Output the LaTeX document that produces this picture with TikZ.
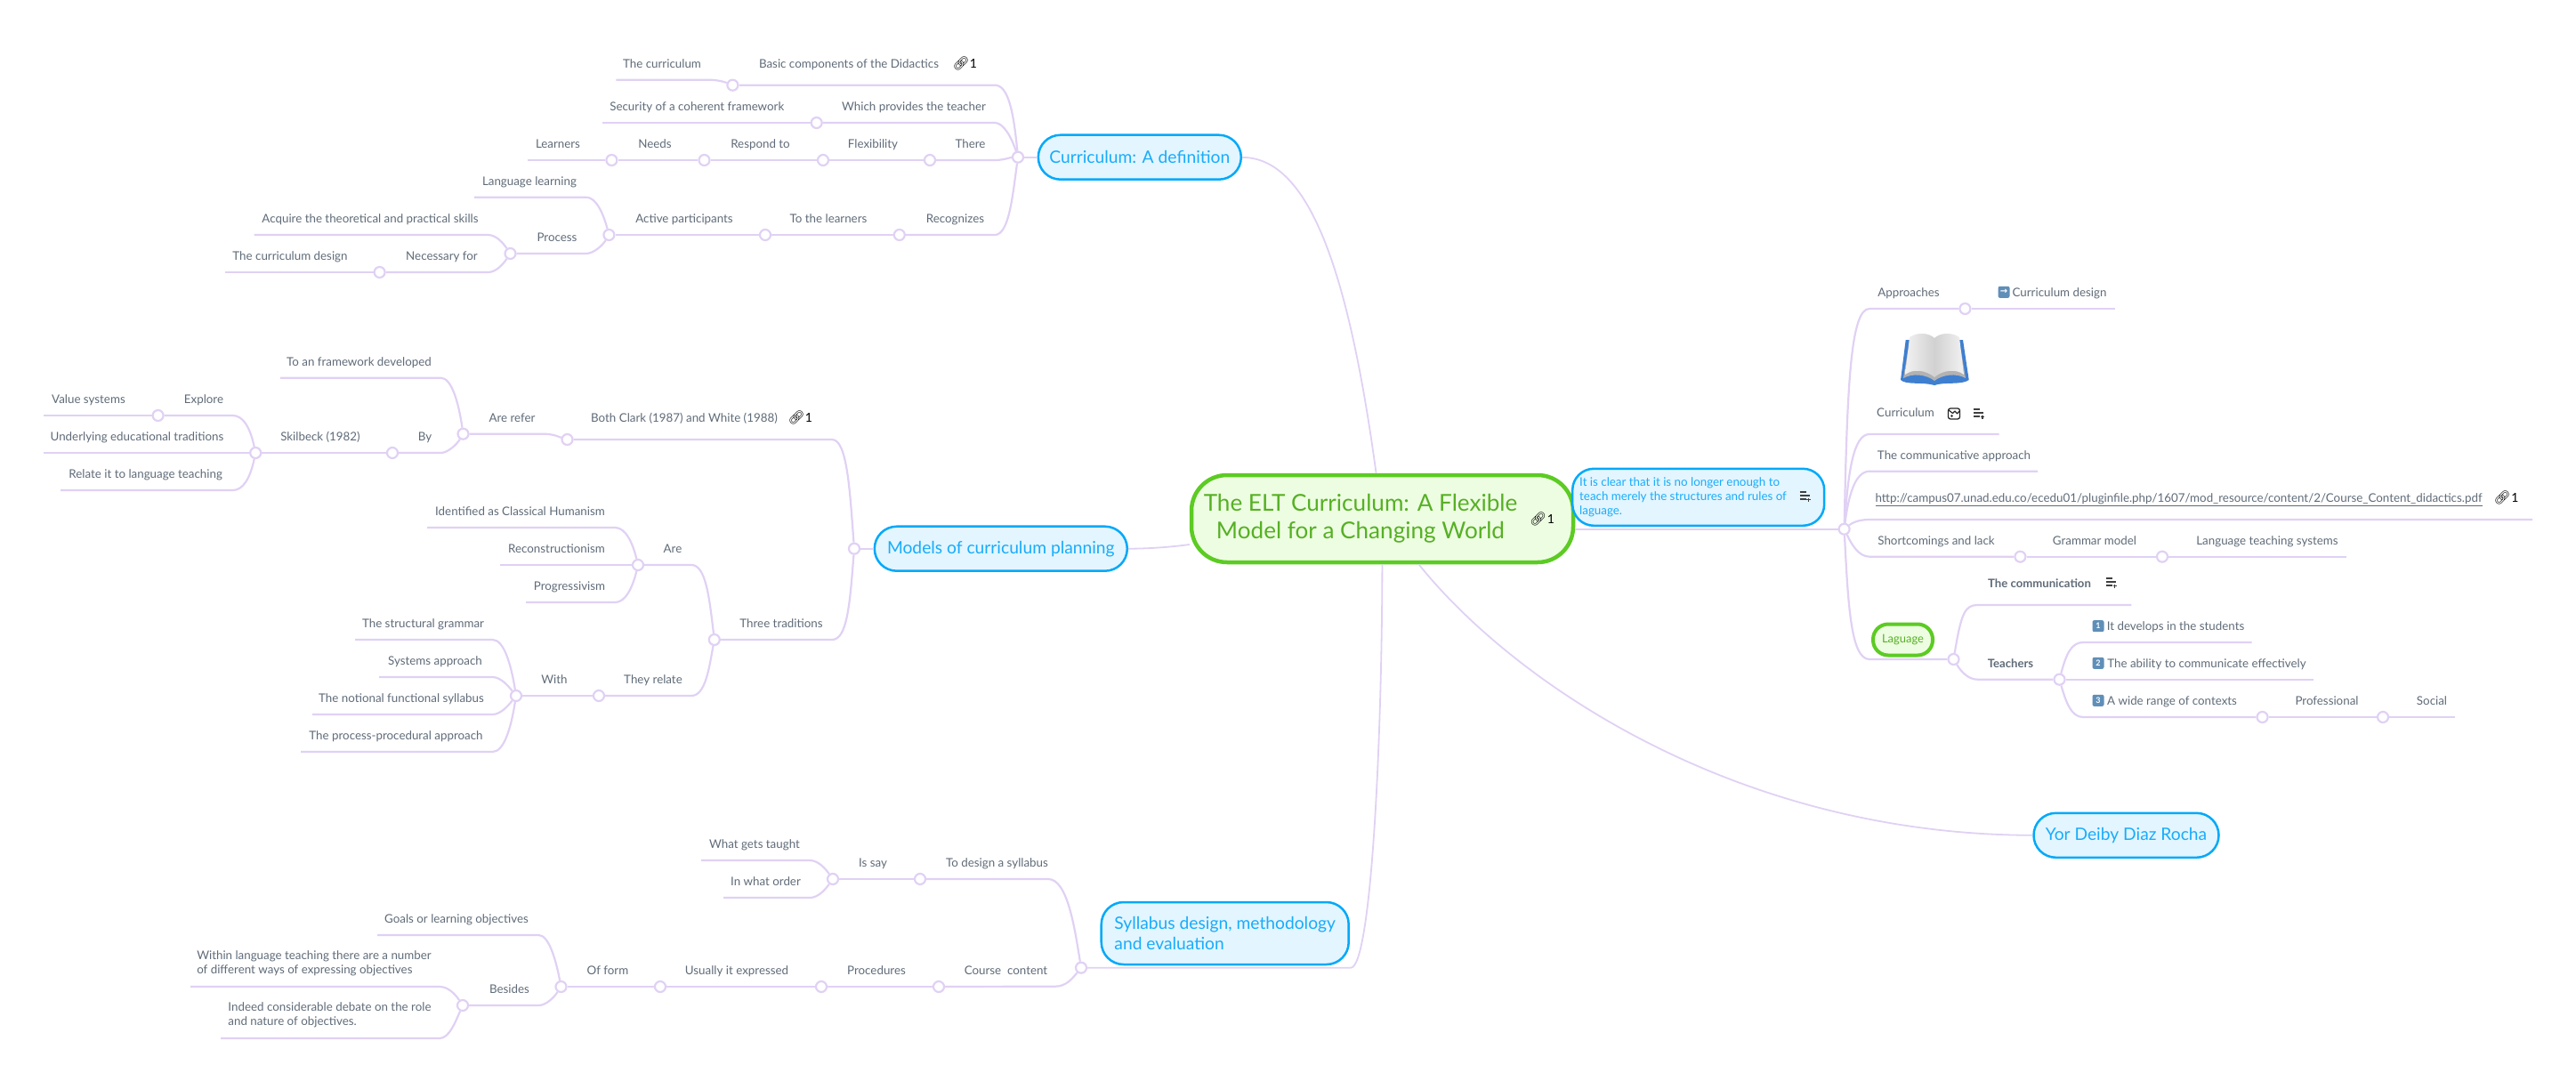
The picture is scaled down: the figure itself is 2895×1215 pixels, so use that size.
\documentclass[tikz,border=0pt]{standalone}
\usepackage{fontspec}
\setmainfont{Lato}
\newfontfamily\iconfont{Noto Emoji}
\newfontfamily\arrowfont{DejaVu Sans}
\definecolor{wire}{HTML}{E0D1F4}
\definecolor{ink}{HTML}{5F6B78}
\definecolor{bluedge}{HTML}{03A9F9}
\definecolor{bluefill}{HTML}{E3F5FE}
\definecolor{bluetext}{HTML}{18ACFB}
\definecolor{greenedge}{HTML}{5CCB23}
\definecolor{greenfill}{HTML}{EDFDE2}
\definecolor{greentext}{HTML}{56B024}
\definecolor{keyblue}{HTML}{5F8FB8}
\definecolor{bookblue}{HTML}{3F7FD0}
\tikzset{
  wired/.style={draw=wire,line width=2.2bp},
  mainwire/.style={draw=wire,line width=1.8bp},
  dot/.style={circle,draw=wire,fill=white,line width=2.2bp,minimum size=12bp,inner sep=0pt},
  lab/.style={text=ink,inner sep=0pt,text height=13bp,text depth=3bp,font=\fontsize{13.4}{16}\selectfont},
  boldlab/.style={lab,font=\fontsize{13.2}{16}\selectfont\bfseries},
  lablines/.style={text=ink,inner sep=0pt,align=left,font=\fontsize{13.4}{16}\selectfont},
  topic/.style={rounded corners=25bp,draw=bluedge,fill=bluefill,text=bluetext,line width=2.5bp,inner sep=0pt,align=left,font=\fontsize{19.3}{24}\selectfont},
  linkicon/.style={text=black,inner sep=0pt,font=\iconfont\fontsize{15}{15}\selectfont},
  count/.style={text=black,inner sep=0pt,font=\fontsize{14}{14}\selectfont},
  keycap/.style={rounded corners=2bp,fill=keyblue,text=white,minimum size=13bp,inner sep=0pt,font=\fontsize{9}{9}\selectfont\bfseries},
  noteicon/.pic={
    \draw [line width=1.3bp,draw=black!75] (-6bp,-3bp) -- (1bp,-3bp) (-6bp,1bp) -- (5bp,1bp) (-6bp,5bp) -- (1bp,5bp) (4bp,-6bp) -- (4bp,-1.5bp) (1.8bp,-3.8bp) -- (6.2bp,-3.8bp);
  },
  imageicon/.pic={
    \draw [line width=1.3bp,draw=black!85,rounded corners=2.5bp] (-6.5bp,-6bp) rectangle (6.5bp,6bp);
    \fill [black!85] (-2.5bp,-2.5bp) circle (1.3bp);
    \draw [line width=1.2bp,draw=black!85] (-6bp,4bp) -- (-1.5bp,0.5bp) -- (1bp,3bp) -- (3.5bp,0bp) -- (6bp,3bp);
  },
}
\begin{document}
\begin{tikzpicture}[>=latex,line join=bevel,yscale=-1]
\useasboundingbox (0bp,0bp) rectangle (2895bp,1215bp);
%%
\node (node_root) at (1553.5bp,583bp) [rounded corners=40bp,draw=greenedge,fill=greenfill,line width=4.5bp,minimum width=429bp,minimum height=98bp] {};
\node (text_root) at (1529bp,583bp) [text=greentext,inner sep=0pt,align=center,font=\fontsize{26.2}{31.5}\selectfont] {The ELT Curriculum: A Flexible\\Model for a Changing World};
\node (icon_root) at (1728.6bp,583bp) [linkicon] {\char"1F517};
\node (count_root) at (1743bp,583bp) [count] {1};
\node (node_cur) at (1280.8bp,176.7bp) [topic,minimum width=228bp,minimum height=50bp] {Curriculum: A definition};
\node (node_mod) at (1124.8bp,616.7bp) [topic,minimum width=284bp,minimum height=50bp] {Models of curriculum planning};
\node (node_syl) at (1376.7bp,1049bp) [topic,minimum width=278bp,minimum height=70bp] {Syllabus design, methodology\\and evaluation};
\node (node_yor) at (2389.5bp,938.8bp) [topic,minimum width=208bp,minimum height=50bp] {Yor Deiby Diaz Rocha};
\node (node_note) at (1908.7bp,558.8bp) [rounded corners=24bp,draw=bluedge,fill=bluefill,line width=2.5bp,minimum width=283bp,minimum height=64bp] {};
\node (text_note) at (1775bp,558.8bp) [anchor=west,text=bluetext,inner sep=0pt,align=left,font=\fontsize{13.4}{16}\selectfont] {It is clear that it is no longer enough to\\teach merely the structures and rules of\\laguage.};
\pic at (2028.6bp,558bp) {noteicon};
\node (node_lag) at (2138.5bp,719bp) [rounded corners=17bp,draw=greenedge,fill=greenfill,text=greentext,line width=4bp,minimum width=67bp,minimum height=35bp,inner sep=0pt,font=\fontsize{13}{16}\selectfont] {Laguage};
%
\node (hub_c) at (1144bp,176.7bp) [dot] {};
\node (dot_c1) at (823.4bp,95.7bp) [dot] {};
\node (dot_c2) at (917.7bp,138bp) [dot] {};
\node (dot_c3) at (1045bp,180bp) [dot] {};
\node (dot_c4) at (925bp,180bp) [dot] {};
\node (dot_c5) at (791.5bp,180bp) [dot] {};
\node (dot_c6) at (687.4bp,180bp) [dot] {};
\node (dot_c7) at (1010.8bp,264bp) [dot] {};
\node (dot_c8) at (860bp,264bp) [dot] {};
\node (dot_c9) at (684.4bp,264bp) [dot] {};
\node (dot_c10) at (573.5bp,285bp) [dot] {};
\node (dot_c11) at (426.6bp,306bp) [dot] {};
\coordinate (end_c1) at (692.3bp,89.7bp);
\coordinate (end_c2) at (677bp,138bp);
\coordinate (end_c6) at (593bp,180bp);
\coordinate (end_c9) at (533bp,221.7bp);
\coordinate (end_c10) at (285.7bp,264bp);
\coordinate (end_c11) at (253bp,306bp);
\draw [mainwire] (node_cur) ..controls (1470bp,177bp) and (1515bp,300bp)  .. (node_root);
\draw [wired] (hub_c) -- (node_cur);
\draw [wired] (hub_c) ..controls (1139bp,125bp) and (1133bp,95.7bp)  .. (1118bp,95.7bp) -- (dot_c1);
\draw [wired] (dot_c1) ..controls (814bp,92bp) and (806bp,89.7bp)  .. (796.4bp,89.7bp) -- (end_c1);
\draw [wired] (hub_c) ..controls (1137bp,155bp) and (1128bp,138bp)  .. (1118bp,138bp) -- (dot_c2);
\draw [wired] (dot_c2) -- (end_c2);
\draw [wired] (hub_c) ..controls (1135bp,177bp) and (1128bp,180bp)  .. (1118bp,180bp) -- (dot_c3);
\draw [wired] (dot_c3) -- (dot_c4);
\draw [wired] (dot_c4) -- (dot_c5);
\draw [wired] (dot_c5) -- (dot_c6);
\draw [wired] (dot_c6) -- (end_c6);
\draw [wired] (hub_c) ..controls (1138bp,220bp) and (1134bp,264bp)  .. (1118bp,264bp) -- (dot_c7);
\draw [wired] (dot_c7) -- (dot_c8);
\draw [wired] (dot_c8) -- (dot_c9);
\draw [wired] (dot_c9) ..controls (678bp,240bp) and (670bp,221.7bp)  .. (658.7bp,221.7bp) -- (end_c9);
\draw [wired] (dot_c9) ..controls (677bp,276bp) and (667bp,285bp)  .. (658.7bp,285bp) -- (dot_c10);
\draw [wired] (dot_c10) ..controls (566bp,274bp) and (558bp,264bp)  .. (548.4bp,264bp) -- (end_c10);
\draw [wired] (dot_c10) ..controls (566bp,296bp) and (558bp,306bp)  .. (548.4bp,306bp) -- (dot_c11);
\draw [wired] (dot_c11) -- (end_c11);
\node (label_c1) at (744bp,71.7bp) [lab] {The curriculum};
\node (label_c2) at (954bp,71.7bp) [lab] {Basic components of the Didactics};
\node (icon_c2) at (1080bp,71.7bp) [linkicon] {\char"1F517};
\node (count_c2) at (1094bp,71.7bp) [count] {1};
\node (label_c3) at (1027bp,119.3bp) [lab] {Which provides the teacher};
\node (label_c4) at (783.3bp,119.3bp) [lab] {Security of a coherent framework};
\node (label_c5) at (1090.5bp,161.7bp) [lab] {There};
\node (label_c6) at (981bp,161.7bp) [lab] {Flexibility};
\node (label_c7) at (854.5bp,161.7bp) [lab] {Respond to};
\node (label_c8) at (736bp,161.7bp) [lab] {Needs};
\node (label_c9) at (627bp,161.7bp) [lab] {Learners};
\node (label_c10) at (1073.5bp,245.7bp) [lab] {Recognizes};
\node (label_c11) at (931bp,245.7bp) [lab] {To the learners};
\node (label_c12) at (769bp,245.7bp) [lab] {Active participants};
\node (label_c13) at (595bp,203.7bp) [lab] {Language learning};
\node (label_c14) at (626bp,266.3bp) [lab] {Process};
\node (label_c15) at (416bp,245.7bp) [lab] {Acquire the theoretical and practical skills};
\node (label_c16) at (496.5bp,287.7bp) [lab] {Necessary for};
\node (label_c17) at (326bp,287.7bp) [lab] {The curriculum design};
%
\node (hub_m) at (960bp,616.7bp) [dot] {};
\node (dot_m1) at (637.5bp,494bp) [dot] {};
\node (dot_m2) at (520.5bp,487.7bp) [dot] {};
\node (dot_m3) at (441bp,509bp) [dot] {};
\node (dot_m4) at (287.2bp,509bp) [dot] {};
\node (dot_m5) at (177.6bp,467bp) [dot] {};
\node (dot_m6) at (802.8bp,719bp) [dot] {};
\node (dot_m7) at (717bp,635bp) [dot] {};
\node (dot_m8) at (673bp,782bp) [dot] {};
\node (dot_m9) at (580bp,782bp) [dot] {};
\coordinate (end_m1) at (314.8bp,424.7bp);
\coordinate (end_m2) at (49bp,467bp);
\coordinate (end_m3) at (49bp,509bp);
\coordinate (end_m4) at (68bp,551bp);
\coordinate (end_m5) at (480bp,593bp);
\coordinate (end_m6) at (562bp,635bp);
\coordinate (end_m7) at (591bp,677bp);
\coordinate (end_m8) at (399bp,719bp);
\coordinate (end_m9) at (426bp,761bp);
\coordinate (end_m10) at (351bp,803bp);
\coordinate (end_m11) at (338bp,845bp);
\draw [mainwire] (node_mod.east) ..controls (1290bp,616.7bp) and (1315bp,615bp)  .. (node_root);
\draw [wired] (hub_m) -- (node_mod);
\draw [wired] (hub_m) ..controls (955bp,550bp) and (952bp,494bp)  .. (935bp,494bp) -- (dot_m1);
\draw [wired] (dot_m1) ..controls (628bp,491bp) and (622bp,487.7bp)  .. (610.5bp,487.7bp) -- (dot_m2);
\draw [wired] (dot_m2) ..controls (515bp,450bp) and (507bp,424.7bp)  .. (495.4bp,424.7bp) -- (end_m1);
\draw [wired] (dot_m2) ..controls (513bp,500bp) and (503bp,509bp)  .. (495.4bp,509bp) -- (dot_m3);
\draw [wired] (dot_m3) -- (dot_m4);
\draw [wired] (dot_m4) ..controls (281bp,480bp) and (273bp,467bp)  .. (261.5bp,467bp) -- (dot_m5);
\draw [wired] (dot_m5) -- (end_m2);
\draw [wired] (dot_m4) -- (end_m3);
\draw [wired] (dot_m4) ..controls (281bp,538bp) and (273bp,551bp)  .. (261.5bp,551bp) -- (end_m4);
\draw [wired] (hub_m) ..controls (955bp,680bp) and (952bp,719bp)  .. (935bp,719bp) -- (dot_m6);
\draw [wired] (dot_m6) ..controls (797bp,670bp) and (793bp,635bp)  .. (777bp,635bp) -- (dot_m7);
\draw [wired] (dot_m7) ..controls (711bp,610bp) and (703bp,593bp)  .. (691.4bp,593bp) -- (end_m5);
\draw [wired] (dot_m7) -- (end_m6);
\draw [wired] (dot_m7) ..controls (711bp,660bp) and (703bp,677bp)  .. (691.4bp,677bp) -- (end_m7);
\draw [wired] (dot_m6) ..controls (797bp,750bp) and (793bp,782bp)  .. (777bp,782bp) -- (dot_m8);
\draw [wired] (dot_m8) -- (dot_m9);
\draw [wired] (dot_m9) ..controls (574bp,745bp) and (566bp,719bp)  .. (553.6bp,719bp) -- (end_m8);
\draw [wired] (dot_m9) ..controls (572bp,772bp) and (563bp,761bp)  .. (553.6bp,761bp) -- (end_m9);
\draw [wired] (dot_m9) ..controls (572bp,792bp) and (563bp,803bp)  .. (553.6bp,803bp) -- (end_m10);
\draw [wired] (dot_m9) ..controls (574bp,820bp) and (566bp,845bp)  .. (553.6bp,845bp) -- (end_m11);
\node (label_m1) at (403.5bp,406.3bp) [lab] {To an framework developed};
\node (label_m2) at (575.5bp,469.3bp) [lab] {Are refer};
\node (label_m3) at (769bp,469.3bp) [lab] {Both Clark (1987) and White (1988)};
\node (icon_m3) at (895bp,469.3bp) [linkicon] {\char"1F517};
\node (count_m3) at (909bp,469.3bp) [count] {1};
\node (label_m4) at (477.5bp,490.7bp) [lab] {By};
\node (label_m5) at (360bp,490.7bp) [lab] {Skilbeck (1982)};
\node (label_m6) at (229bp,448.3bp) [lab] {Explore};
\node (label_m7) at (99.5bp,448.3bp) [lab] {Value systems};
\node (label_m8) at (154bp,490.3bp) [lab] {Underlying educational traditions};
\node (label_m9) at (163.7bp,532.3bp) [lab] {Relate it to language teaching};
\node (label_m10) at (878bp,700.3bp) [lab] {Three traditions};
\node (label_m11) at (756bp,616.3bp) [lab] {Are};
\node (label_m12) at (584.5bp,574.3bp) [lab] {Identified as Classical Humanism};
\node (label_m13) at (625.5bp,616.3bp) [lab] {Reconstructionism};
\node (label_m14) at (640bp,658.3bp) [lab] {Progressivism};
\node (label_m15) at (734bp,763.3bp) [lab] {They relate};
\node (label_m16) at (623bp,763.3bp) [lab] {With};
\node (label_m17) at (475.5bp,700.3bp) [lab] {The structural grammar};
\node (label_m18) at (489bp,742.3bp) [lab] {Systems approach};
\node (label_m19) at (451bp,784.3bp) [lab] {The notional functional syllabus};
\node (label_m20) at (445bp,826.3bp) [lab] {The process-procedural approach};
%
\node (hub_s) at (1215bp,1087.7bp) [dot] {};
\node (dot_s1) at (1034bp,988bp) [dot] {};
\node (dot_s2) at (936bp,988bp) [dot] {};
\node (dot_s3) at (1055bp,1109bp) [dot] {};
\node (dot_s4) at (923bp,1109bp) [dot] {};
\node (dot_s5) at (742bp,1109bp) [dot] {};
\node (dot_s6) at (630.5bp,1109bp) [dot] {};
\node (dot_s7) at (520bp,1130bp) [dot] {};
\coordinate (end_s1) at (788bp,967bp);
\coordinate (end_s2) at (813bp,1009bp);
\coordinate (end_s3) at (424bp,1051bp);
\coordinate (end_s4) at (214bp,1109bp);
\coordinate (end_s5) at (248bp,1167bp);
\draw [mainwire] (node_root) ..controls (1553bp,850bp) and (1540bp,1087.7bp)  .. (1518bp,1087.7bp) -- (hub_s);
\draw [wired] (hub_s) ..controls (1208bp,1045bp) and (1200bp,988bp)  .. (1178bp,988bp) -- (dot_s1);
\draw [wired] (dot_s1) -- (dot_s2);
\draw [wired] (dot_s2) ..controls (928bp,977bp) and (920bp,967bp)  .. (910bp,967bp) -- (end_s1);
\draw [wired] (dot_s2) ..controls (928bp,999bp) and (920bp,1009bp)  .. (910bp,1009bp) -- (end_s2);
\draw [wired] (hub_s) ..controls (1205bp,1100bp) and (1198bp,1108.7bp)  .. (1186bp,1108.7bp) -- (dot_s3);
\draw [wired] (dot_s3) -- (dot_s4);
\draw [wired] (dot_s4) -- (dot_s5);
\draw [wired] (dot_s5) -- (dot_s6);
\draw [wired] (dot_s6) ..controls (624bp,1075bp) and (616bp,1051bp)  .. (605.4bp,1051bp) -- (end_s3);
\draw [wired] (dot_s6) ..controls (622bp,1122bp) and (613bp,1130bp)  .. (605.4bp,1130bp) -- (dot_s7);
\draw [wired] (dot_s7) ..controls (512bp,1118bp) and (504bp,1109bp)  .. (494bp,1109bp) -- (end_s4);
\draw [wired] (dot_s7) ..controls (512bp,1148bp) and (505bp,1167bp)  .. (494bp,1167bp) -- (end_s5);
\node (label_s1) at (1120.5bp,969.7bp) [lab] {To design a syllabus};
\node (label_s2) at (981bp,969.7bp) [lab] {Is say};
\node (label_s3) at (848bp,948.7bp) [lab] {What gets taught};
\node (label_s4) at (860.5bp,990.7bp) [lab] {In what order};
\node (label_s5) at (1130.5bp,1090.3bp) [lab] {Course\ \ content};
\node (label_s6) at (985bp,1090.3bp) [lab] {Procedures};
\node (label_s7) at (828bp,1090.3bp) [lab] {Usually it expressed};
\node (label_s8) at (683bp,1090.3bp) [lab] {Of form};
\node (label_s9) at (513bp,1032.3bp) [lab] {Goals or learning objectives};
\node (label_s10) at (572.5bp,1111.3bp) [lab] {Besides};
\node (label_s11) at (353bp,1083bp) [lablines] {Within language teaching there are a number\\of different ways of expressing objectives};
\node (label_s12) at (370.5bp,1141bp) [lablines] {Indeed considerable debate on the role\\and nature of objectives.};
%
\node (hub_r) at (2072.6bp,594.7bp) [dot] {};
\node (dot_r1) at (2208.4bp,347bp) [dot] {};
\node (dot_r2) at (2270.4bp,625.7bp) [dot] {};
\node (dot_r3) at (2430bp,625.7bp) [dot] {};
\node (dot_r4) at (2195.5bp,741bp) [dot] {};
\node (dot_r5) at (2314.5bp,763.7bp) [dot] {};
\node (dot_r6) at (2542.5bp,806bp) [dot] {};
\node (dot_r7) at (2678bp,806bp) [dot] {};
\coordinate (end_r1) at (2377bp,347bp);
\coordinate (end_r2) at (2246.7bp,488bp);
\coordinate (end_r3) at (2290bp,529.7bp);
\coordinate (end_r4) at (2846bp,584bp);
\coordinate (end_r5) at (2637.3bp,625.7bp);
\coordinate (end_r6) at (2395.4bp,680bp);
\coordinate (end_r7) at (2530.6bp,722bp);
\coordinate (end_r8) at (2599.6bp,763.7bp);
\coordinate (end_r9) at (2759bp,806bp);
\draw [mainwire] (node_root) ..controls (1700bp,766bp) and (1950bp,938bp)  .. (node_yor.west);
\draw [wired] (node_root.east |- hub_r) -- (hub_r);
\draw [wired] (hub_r) ..controls (2076bp,430bp) and (2080bp,347bp)  .. (2101bp,347bp) -- (dot_r1);
\draw [wired] (dot_r1) -- (end_r1);
\draw [wired] (hub_r) ..controls (2077bp,530bp) and (2083bp,488bp)  .. (2101bp,488bp) -- (end_r2);
\draw [wired] (hub_r) ..controls (2077bp,560bp) and (2084bp,529.7bp)  .. (2101bp,529.7bp) -- (end_r3);
\draw [wired] (hub_r) ..controls (2081bp,588bp) and (2088bp,584bp)  .. (2101bp,584bp) -- (end_r4);
\draw [wired] (hub_r) ..controls (2080bp,610bp) and (2088bp,625.7bp)  .. (2101bp,625.7bp) -- (dot_r2);
\draw [wired] (dot_r2) -- (dot_r3);
\draw [wired] (dot_r3) -- (end_r5);
\draw [wired] (hub_r) ..controls (2077bp,680bp) and (2080bp,741bp)  .. (2101bp,741bp) -- (dot_r4);
\draw [wired] (dot_r4) ..controls (2204bp,690bp) and (2208bp,680bp)  .. (2222.4bp,680bp) -- (end_r6);
\draw [wired] (dot_r4) ..controls (2204bp,755bp) and (2212bp,763.7bp)  .. (2222.4bp,763.7bp) -- (dot_r5);
\draw [wired] (dot_r5) ..controls (2322bp,735bp) and (2328bp,722bp)  .. (2341bp,722bp) -- (end_r7);
\draw [wired] (dot_r5) -- (end_r8);
\draw [wired] (dot_r5) ..controls (2322bp,790bp) and (2328bp,806bp)  .. (2341bp,806bp) -- (dot_r6);
\draw [wired] (dot_r6) -- (dot_r7);
\draw [wired] (dot_r7) -- (end_r9);
\node (label_r1) at (2145bp,328.3bp) [lab] {Approaches};
\node (key_r1) at (2252bp,328.3bp) [keycap] {\arrowfont\fontsize{10}{10}\selectfont →};
\node (label_r2) at (2314.5bp,328.3bp) [lab] {Curriculum design};
\node (label_r3) at (2141.5bp,463.7bp) [lab] {Curriculum};
\pic at (2196bp,465bp) {imageicon};
\pic at (2224bp,465bp) {noteicon};
\node (label_r4) at (2196bp,511.3bp) [lab] {The communicative approach};
\node (label_r5) at (2448.5bp,559.3bp) [lab] {\underline{http://campus07.unad.edu.co/ecedu01/pluginfile.php/1607/mod\_resource/content/2/Course\_Content\_didactics.pdf}};
\node (icon_r5) at (2812bp,559.3bp) [linkicon] {\char"1F517};
\node (count_r5) at (2826.5bp,559.3bp) [count] {1};
\node (label_r6) at (2176bp,607.7bp) [lab] {Shortcomings and lack};
\node (label_r7) at (2354bp,607.7bp) [lab] {Grammar model};
\node (label_r8) at (2548bp,607.7bp) [lab] {Language teaching systems};
\node (label_r9) at (2292bp,655.3bp) [boldlab] {The communication};
\pic at (2372.7bp,655bp) {noteicon};
\node (label_r10) at (2259.5bp,745.3bp) [boldlab] {Teachers};
\node (key_r11) at (2358bp,703.7bp) [keycap] {1};
\node (label_r11) at (2445bp,703.7bp) [lab] {It develops in the students};
\node (key_r12) at (2358bp,745.3bp) [keycap] {2};
\node (label_r12) at (2480bp,745.3bp) [lab] {The ability to communicate effectively};
\node (key_r13) at (2358bp,787.3bp) [keycap] {3};
\node (label_r13) at (2441bp,787.3bp) [lab] {A wide range of contexts};
\node (label_r14) at (2615bp,787.3bp) [lab] {Professional};
\node (label_r15) at (2733bp,787.3bp) [lab] {Social};
%
\begin{scope}[shift={(2120bp,365bp)}]
\fill [bookblue] (21.7bp,17bp) -- (16bp,62bp) ..controls (22bp,68bp) and (40bp,64bp)  .. (54bp,68bp) ..controls (65bp,64bp) and (85bp,68bp)  .. (92.7bp,62bp) -- (86bp,17bp) -- cycle;
\fill [black!30] (19bp,60bp) ..controls (30bp,54bp) and (45bp,56bp)  .. (54bp,63bp) ..controls (63bp,56bp) and (78bp,54bp)  .. (89bp,60bp) -- (84bp,30bp) -- (24bp,30bp) -- cycle;
\shade [left color=black!5,right color=black!18] (26bp,14bp) ..controls (35bp,8bp) and (48bp,9bp)  .. (54bp,15bp) -- (54bp,59bp) ..controls (45bp,51bp) and (30bp,49bp)  .. (21bp,56bp) -- cycle;
\shade [left color=black!18,right color=black!5] (82bp,14bp) ..controls (73bp,8bp) and (60bp,9bp)  .. (54bp,15bp) -- (54bp,59bp) ..controls (63bp,51bp) and (78bp,49bp)  .. (87bp,56bp) -- cycle;
\end{scope}
%
\end{tikzpicture}
\end{document}
